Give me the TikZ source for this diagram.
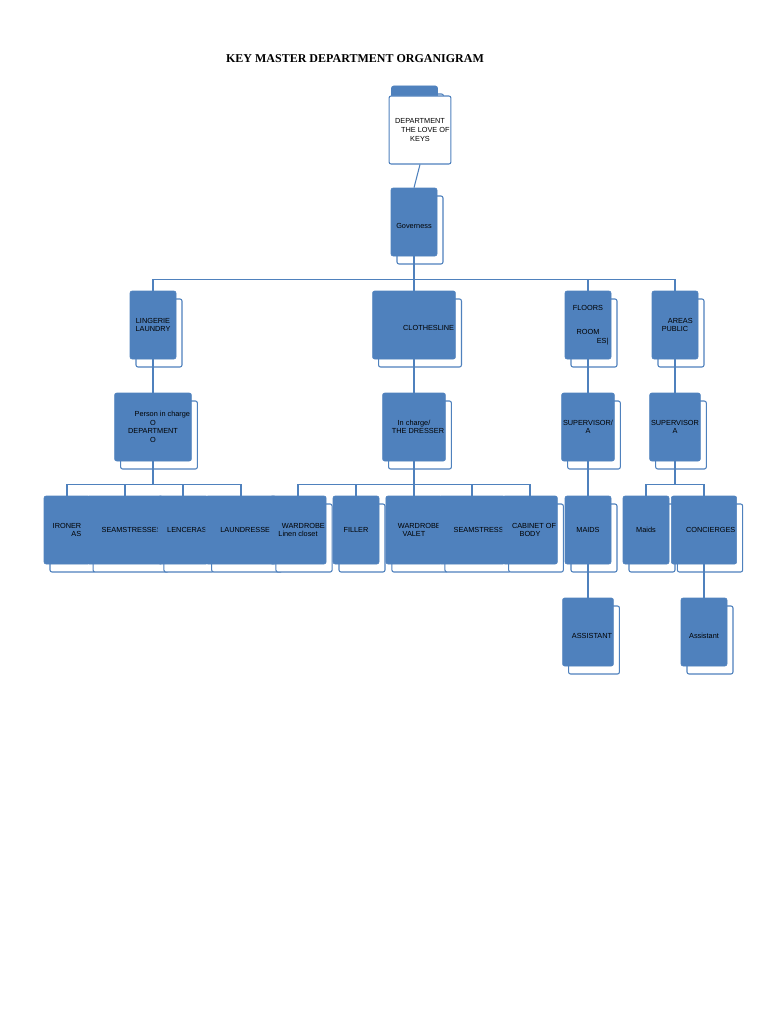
\documentclass[tikz,border=0pt]{standalone}
\usepackage{fontspec}
\setmainfont{Liberation Sans}
\newfontfamily\titlefont{Liberation Serif}
\usetikzlibrary{shadows}
\definecolor{orgblue}{HTML}{4F81BD}

\begin{document}
\begin{tikzpicture}
		[x=0.75pt,y=-0.75pt,
		post/.style={rectangle,rounded corners=1.5pt,fill=orgblue,draw=orgblue,inner sep=1pt,
			minimum width=34.5pt,minimum height=51pt,align=center,
			font=\fontsize{5.5}{6.5}\selectfont,
			copy shadow={shadow xshift=4.5pt,shadow yshift=-6pt,fill=white,draw=orgblue,thick}},
		topcard/.style={rectangle,rounded corners=1.5pt,fill=white,draw=orgblue,thick,inner sep=1pt,
			minimum width=34.5pt,minimum height=51pt,align=center,
			font=\fontsize{5.5}{6.5}\selectfont},
		link/.style={draw=orgblue,thick}]
		\useasboundingbox (0,0) rectangle (768,1024);
		\node [font=\titlefont\bfseries\fontsize{9}{11}\selectfont] (title) at (355,59) {KEY MASTER DEPARTMENT ORGANIGRAM};

		\node [post,copy shadow={opacity=0}] (deptback) at (414.5,120) {};
		\node [topcard] (dept) at (420,130) {DEPARTMENT\\\hspace*{8pt}THE LOVE OF\\KEYS};
		\node [post] (gov) at (414,222) {\\[4pt]Governess};

		\node [post] (ling) at (153,325) {LINGERIE\\LAUNDRY};
		\node [post] (cloth) at (414,325) {\\[2pt]\hspace*{22pt}CLOTHESLINE};
		\node [post] (floor) at (588,325) {FLOORS\\[12pt]ROOM\\\hspace*{22pt}ES|};
		\node [post] (area) at (675,325) {\hspace*{8pt}AREAS\\PUBLIC};

		\node [post] (lingboss) at (153,427) {\hspace*{14pt}Person in charge\\O\\DEPARTMENT\\O};
		\node [post] (dresser) at (414,427) {In charge/\\\hspace*{6pt}THE DRESSER};
		\node [post] (supa) at (588,427) {SUPERVISOR/\\A};
		\node [post] (supb) at (675,427) {SUPERVISOR\\A};

		\node [post] (ironer) at (67,530) {IRONER\\\hspace*{14pt}AS};
		\node [post] (seams) at (125,530) {\hspace*{10pt}SEAMSTRESSES};
		\node [post] (lenc) at (183,530) {\hspace*{6pt}LENCERAS};
		\node [post] (laund) at (241,530) {\hspace*{10pt}LAUNDRESSES};
		\node [post] (linen) at (298,530) {\hspace*{8pt}WARDROBE\\Linen closet};
		\node [post] (filler) at (356,530) {FILLER};
		\node [post] (valet) at (414,530) {\hspace*{8pt}WARDROBE\\VALET};
		\node [post] (seam) at (472,530) {\hspace*{10pt}SEAMSTRESS};
		\node [post] (cabinet) at (530,530) {\hspace*{6pt}CABINET OF\\BODY};
		\node [post] (maids) at (588,530) {MAIDS};
		\node [post] (maidsb) at (646,530) {Maids};
		\node [post] (conc) at (704,530) {\hspace*{10pt}CONCIERGES};

		\node [post] (assta) at (588,632) {\\[4pt]\hspace*{6pt}ASSISTANT};
		\node [post] (asstb) at (704,632) {\\[4pt]Assistant};

		% connectors
		\draw [link] (dept.south) -- (gov.north);
		\draw [link] (gov.south) -- ++(0,23) coordinate (bar);
		\foreach \n in {ling,cloth,floor,area}
			\draw [link] (bar) -| (\n.north);
		\draw [link] (ling.south) -- (lingboss.north);
		\draw [link] (cloth.south) -- (dresser.north);
		\draw [link] (floor.south) -- (supa.north);
		\draw [link] (area.south) -- (supb.north);
		\draw [link] (lingboss.south) -- ++(0,23) coordinate (barl);
		\foreach \n in {ironer,seams,lenc,laund}
			\draw [link] (barl) -| (\n.north);
		\draw [link] (dresser.south) -- ++(0,23) coordinate (barc);
		\foreach \n in {linen,filler,valet,seam,cabinet}
			\draw [link] (barc) -| (\n.north);
		\draw [link] (supa.south) -- (maids.north);
		\draw [link] (supb.south) -- ++(0,23) coordinate (bara);
		\foreach \n in {maidsb,conc}
			\draw [link] (bara) -| (\n.north);
		\draw [link] (maids.south) -- (assta.north);
		\draw [link] (conc.south) -- (asstb.north);
	\end{tikzpicture}
\end{document}
